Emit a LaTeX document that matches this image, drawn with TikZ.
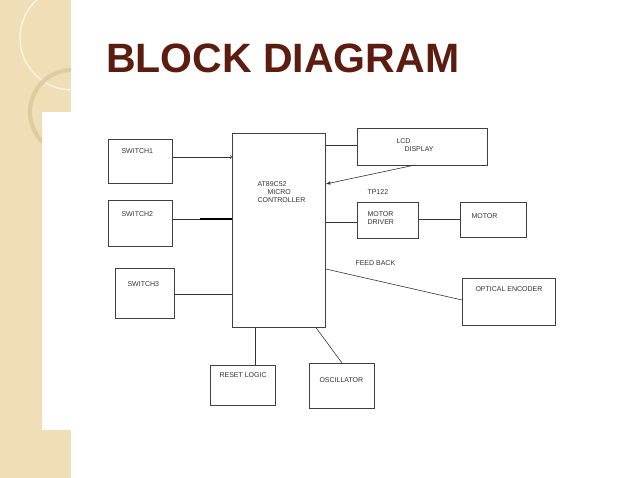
\documentclass[tikz,border=0pt]{standalone}
\usepackage{fontspec}
\setmainfont{Liberation Sans}
\definecolor{beige}{RGB}{240,223,182}
\definecolor{beigedk}{RGB}{222,204,160}
\definecolor{titlec}{RGB}{92,28,16}
\begin{document}
\begin{tikzpicture}[x=1pt,y=-1pt,
  blk/.style={draw=black!75,line width=0.7pt,inner sep=0pt,anchor=north west},
  lbl/.style={font=\fontsize{7}{8}\selectfont,text=black!80,align=left},
  ln/.style={draw=black!80,line width=0.6pt}]
\useasboundingbox (0,0) rectangle (638,478);
\fill[white] (0,0) rectangle (638,478);
\fill[beige] (0,0) rectangle (71,478);
\begin{scope}
\clip (0,0) rectangle (71,478);
\draw[white!60!beige,line width=1.5pt] (72,38) circle (52);
\draw[beigedk,line width=4pt] (72,112) circle (42);
\end{scope}
\fill[white] (42,112) rectangle (575,430);
\node[anchor=base west,inner sep=0pt,font=\bfseries\fontsize{41}{41}\selectfont,text=titlec] (title) at (106,73) {BLOCK DIAGRAM};
% boxes
\node[blk,minimum width=64,minimum height=44] (s1) at (108,139) {};
\node[blk,minimum width=64,minimum height=46] (s2) at (108,200) {};
\node[blk,minimum width=59,minimum height=50] (s3) at (115,268) {};
\node[blk,minimum width=93,minimum height=194] (mc) at (232,133) {};
\node[blk,minimum width=130,minimum height=37] (lcd) at (357,128) {};
\node[blk,minimum width=61,minimum height=36] (md) at (357,202) {};
\node[blk,minimum width=66,minimum height=35] (mo) at (460,202) {};
\node[blk,minimum width=93,minimum height=47] (oe) at (462,278) {};
\node[blk,minimum width=65,minimum height=40] (rl) at (210,365) {};
\node[blk,minimum width=65,minimum height=45] (os) at (309,363) {};
% labels
\node[lbl,anchor=west] (t1) at (118,151) {SWITCH1};
\node[lbl,anchor=west] (t2) at (118,214) {SWITCH2};
\node[lbl,anchor=west] (t3) at (124,284) {SWITCH3};
\node[lbl,anchor=north west] (tmc) at (254,178) {AT89C52\\\hspace*{10pt}MICRO\\CONTROLLER};
\node[lbl,anchor=north west] (tlcd) at (393,135) {LCD\\\hspace*{8pt}DISPLAY};
\node[lbl,anchor=north west] (tmd) at (364,208) {MOTOR\\DRIVER};
\node[lbl,anchor=west] (tmo) at (468,216) {MOTOR};
\node[lbl,anchor=west] (toe) at (472,289) {OPTICAL ENCODER};
\node[lbl,anchor=west] (trl) at (216,375) {RESET LOGIC};
\node[lbl,anchor=west] (tos) at (316,380) {OSCILLATOR};
\node[lbl,anchor=west] (ttp) at (364,192) {TP122};
\node[lbl,anchor=west] (tfb) at (352,263) {FEED BACK};
% connectors
\coordinate (a1) at (s1.east |- 0,157);
\draw[ln,->] (a1) -- (a1 -| mc.west);
\coordinate (a2) at (s2.east |- 0,219);
\draw[ln] (a2) -- (a2 -| mc.west);
\draw[line width=1.2pt] (200,219) -- (a2 -| mc.west);
\coordinate (a3) at (s3.east |- 0,294);
\draw[ln] (a3) -- (a3 -| mc.west);
\coordinate (a4) at (mc.east |- 0,145);
\draw[ln] (a4) -- (a4 -| lcd.west);
\coordinate (a5) at (mc.east |- 0,184);
\draw[ln,-latex] (415,165) -- (a5);
\coordinate (a6) at (mc.east |- 0,222);
\draw[ln] (a6) -- (a6 -| md.west);
\coordinate (a7) at (md.east |- 0,219);
\draw[ln] (a7) -- (a7 -| mo.west);
\coordinate (a8) at (mc.east |- 0,269);
\draw[ln] (a8) -- (oe.west |- 0,300);
\draw[ln] (mc.south -| 255,0) -- (rl.north -| 255,0);
\draw[ln] (mc.south -| 316,0) -- (os.north -| 342,0);
\end{tikzpicture}
\end{document}
